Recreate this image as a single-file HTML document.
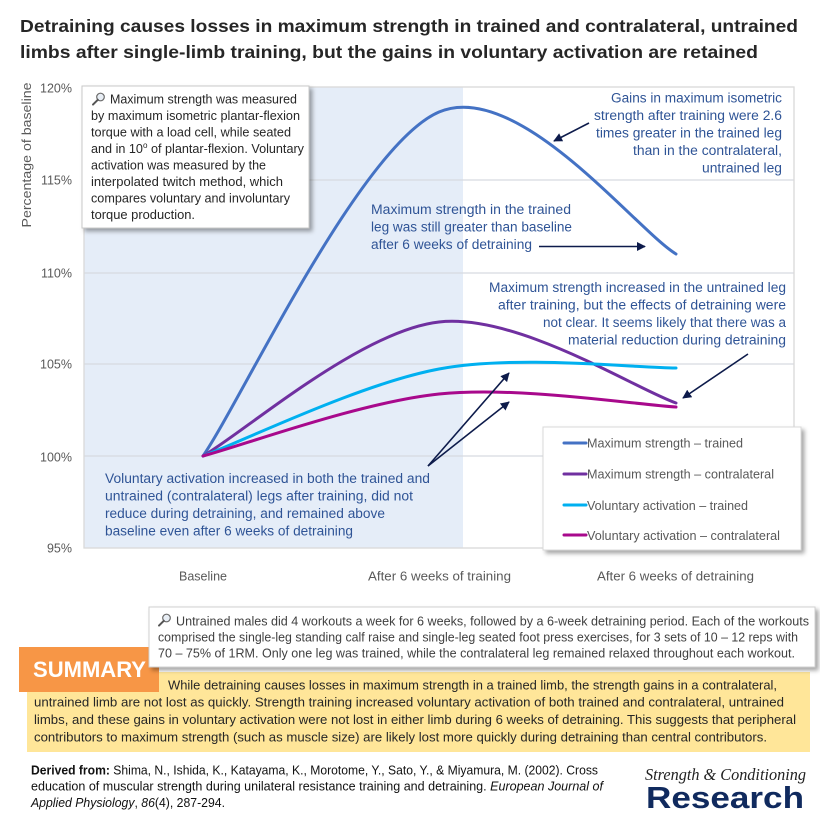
<!DOCTYPE html>
<html>
<head>
<meta charset="utf-8">
<style>
  html,body{margin:0;padding:0;background:#fff;}
  svg{display:block;}
  text{font-family:"Liberation Sans", Arial, sans-serif;}
</style>
</head>
<body>
<svg width="820" height="820" viewBox="0 0 820 820" xmlns="http://www.w3.org/2000/svg">
  <defs>
    <filter id="sh" x="-5%" y="-10%" width="115%" height="130%">
      <feDropShadow dx="3" dy="3" stdDeviation="2" flood-color="#000" flood-opacity="0.35"/>
    </filter>
    <marker id="ah2" viewBox="0 0 10 10" refX="9" refY="5" markerWidth="9" markerHeight="9" markerUnits="userSpaceOnUse" orient="auto">
      <path d="M0,0 L10,5 L0,10 z" fill="#0d1b4b"/>
    </marker>
  </defs>

  <rect width="820" height="820" fill="#fff"/>

  <!-- Title -->
  <text x="20" y="32" font-size="17.5" font-weight="bold" fill="#262626" textLength="778" lengthAdjust="spacingAndGlyphs">Detraining causes losses in maximum strength in trained and contralateral, untrained</text>
  <text x="20" y="58" font-size="17.5" font-weight="bold" fill="#262626" textLength="738" lengthAdjust="spacingAndGlyphs">limbs after single-limb training, but the gains in voluntary activation are retained</text>

  <!-- Plot area -->
  <rect x="84" y="87" width="710" height="461" fill="#fff"/>
  <rect x="84" y="87" width="379" height="461" fill="#e5edf8"/>
  <g stroke="#d6dae0" stroke-width="1.3">
    <line x1="84" y1="180" x2="794" y2="180"/>
    <line x1="84" y1="273" x2="794" y2="273"/>
    <line x1="84" y1="364" x2="794" y2="364"/>
    <line x1="84" y1="456" x2="794" y2="456"/>
  </g>
  <rect x="84" y="87" width="710" height="461" fill="none" stroke="#d9d9d9" stroke-width="1.3"/>

  <!-- Y tick labels -->
  <g font-size="12.5" fill="#595959" text-anchor="end">
    <text x="72" y="92.5">120%</text>
    <text x="72" y="184.5">115%</text>
    <text x="72" y="277.5">110%</text>
    <text x="72" y="368.5">105%</text>
    <text x="72" y="461.5">100%</text>
    <text x="72" y="552.5">95%</text>
  </g>
  <text transform="translate(31,155) rotate(-90)" font-size="13" fill="#595959" text-anchor="middle" textLength="145" lengthAdjust="spacingAndGlyphs">Percentage of baseline</text>

  <!-- X labels -->
  <g font-size="12.5" fill="#595959" text-anchor="middle">
    <text x="203" y="580.5" textLength="48" lengthAdjust="spacingAndGlyphs">Baseline</text>
    <text x="439.5" y="580.5" textLength="143" lengthAdjust="spacingAndGlyphs">After 6 weeks of training</text>
    <text x="675.5" y="580.5" textLength="157" lengthAdjust="spacingAndGlyphs">After 6 weeks of detraining</text>
  </g>

  <!-- Series -->
  <g fill="none" stroke-width="3" stroke-linecap="round" stroke-linejoin="round">
    <path d="M203,456 C242.3,398.7 360.2,145.7 439,112 C517.8,78.3 636.5,230.3 676,254" stroke="#4472c4"/>
    <path d="M203,456 C242.3,433.7 360.2,330.8 439,322 C517.8,313.2 636.5,389.5 676,403" stroke="#7030a0"/>
    <path d="M203,456 C242.3,441.5 360.2,383.7 439,369 C517.8,354.3 636.5,368.2 676,368" stroke="#00b0f0"/>
    <path d="M203,456 C242.3,445.7 360.2,402.2 439,394 C517.8,385.8 636.5,404.8 676,407" stroke="#a8098c"/>
  </g>

  <!-- Top-left info box -->
  <rect x="82" y="86" width="227" height="142" fill="#fff" stroke="#c8c8c8" stroke-width="1" filter="url(#sh)"/>
  <g>
    <circle cx="100.5" cy="97" r="3.8" fill="#e8eef5" stroke="#6b6b6b" stroke-width="1.2"/>
    <line x1="97.8" y1="99.8" x2="93" y2="104.6" stroke="#555" stroke-width="2" stroke-linecap="round"/>
  </g>
  <g font-size="12.5" fill="#262626">
    <text x="110" y="103.5" textLength="187" lengthAdjust="spacingAndGlyphs">Maximum strength was measured</text>
    <text x="91" y="120" textLength="209" lengthAdjust="spacingAndGlyphs">by maximum isometric plantar-flexion</text>
    <text x="91" y="136.5" textLength="200" lengthAdjust="spacingAndGlyphs">torque with a load cell, while seated</text>
    <text x="91" y="153" textLength="213" lengthAdjust="spacingAndGlyphs">and in 10<tspan font-size="8" dy="-5">o</tspan><tspan dy="5"> of plantar-flexion. Voluntary</tspan></text>
    <text x="91" y="169.5" textLength="175" lengthAdjust="spacingAndGlyphs">activation was measured by the</text>
    <text x="91" y="186" textLength="192" lengthAdjust="spacingAndGlyphs">interpolated twitch method, which</text>
    <text x="91" y="202.5" textLength="199" lengthAdjust="spacingAndGlyphs">compares voluntary and involuntary</text>
    <text x="91" y="219" textLength="104" lengthAdjust="spacingAndGlyphs">torque production.</text>
  </g>

  <!-- Annotations -->
  <g font-size="13.5" fill="#2f5496">
    <text x="782" y="102.5" text-anchor="end" textLength="171" lengthAdjust="spacingAndGlyphs">Gains in maximum isometric</text>
    <text x="782" y="120" text-anchor="end" textLength="188" lengthAdjust="spacingAndGlyphs">strength after training were 2.6</text>
    <text x="782" y="137.5" text-anchor="end" textLength="186" lengthAdjust="spacingAndGlyphs">times greater in the trained leg</text>
    <text x="782" y="155" text-anchor="end" textLength="149" lengthAdjust="spacingAndGlyphs">than in the contralateral,</text>
    <text x="782" y="172.5" text-anchor="end" textLength="80" lengthAdjust="spacingAndGlyphs">untrained leg</text>

    <text x="371" y="214" textLength="200" lengthAdjust="spacingAndGlyphs">Maximum strength in the trained</text>
    <text x="371" y="231.5" textLength="201" lengthAdjust="spacingAndGlyphs">leg was still greater than baseline</text>
    <text x="371" y="249" textLength="161" lengthAdjust="spacingAndGlyphs">after 6 weeks of detraining</text>

    <text x="786" y="292" text-anchor="end" textLength="297" lengthAdjust="spacingAndGlyphs">Maximum strength increased in the untrained leg</text>
    <text x="786" y="309.5" text-anchor="end" textLength="288" lengthAdjust="spacingAndGlyphs">after training, but the effects of detraining were</text>
    <text x="786" y="327" text-anchor="end" textLength="243" lengthAdjust="spacingAndGlyphs">not clear. It seems likely that there was a</text>
    <text x="786" y="344.5" text-anchor="end" textLength="218" lengthAdjust="spacingAndGlyphs">material reduction during detraining</text>

    <text x="105" y="483" textLength="325" lengthAdjust="spacingAndGlyphs">Voluntary activation increased in both the trained and</text>
    <text x="105" y="500.5" textLength="308" lengthAdjust="spacingAndGlyphs">untrained (contralateral) legs after training, did not</text>
    <text x="105" y="518" textLength="280" lengthAdjust="spacingAndGlyphs">reduce during detraining, and remained above</text>
    <text x="105" y="535.5" textLength="248" lengthAdjust="spacingAndGlyphs">baseline even after 6 weeks of detraining</text>
  </g>

  <!-- Arrows -->
  <g stroke="#0d1b4b" stroke-width="1.6" fill="none">
    <line x1="589" y1="123" x2="554" y2="141" marker-end="url(#ah2)"/>
    <line x1="539" y1="246.5" x2="645" y2="246.5" marker-end="url(#ah2)"/>
    <line x1="748" y1="354" x2="683" y2="398" marker-end="url(#ah2)"/>
    <line x1="428" y1="466" x2="509" y2="373" marker-end="url(#ah2)"/>
    <line x1="428" y1="466" x2="509" y2="402" marker-end="url(#ah2)"/>
  </g>

  <!-- Legend -->
  <rect x="543" y="427" width="258" height="123" fill="#fff" stroke="#d9d9d9" stroke-width="1" filter="url(#sh)"/>
  <g stroke-width="3" stroke-linecap="round">
    <line x1="564" y1="443" x2="586" y2="443" stroke="#4472c4"/>
    <line x1="564" y1="474" x2="586" y2="474" stroke="#7030a0"/>
    <line x1="564" y1="505" x2="586" y2="505" stroke="#00b0f0"/>
    <line x1="564" y1="535" x2="586" y2="535" stroke="#a8098c"/>
  </g>
  <g font-size="12.5" fill="#595959">
    <text x="587" y="447.5" textLength="156" lengthAdjust="spacingAndGlyphs">Maximum strength – trained</text>
    <text x="587" y="478.5" textLength="187" lengthAdjust="spacingAndGlyphs">Maximum strength – contralateral</text>
    <text x="587" y="510" textLength="161" lengthAdjust="spacingAndGlyphs">Voluntary activation – trained</text>
    <text x="587" y="540" textLength="193" lengthAdjust="spacingAndGlyphs">Voluntary activation – contralateral</text>
  </g>

  <!-- Summary -->
  <rect x="27" y="672" width="783" height="80" fill="#ffe699"/>
  <rect x="19" y="647" width="140" height="45" fill="#f79646"/>
  <text x="33" y="677" font-size="22" font-weight="bold" fill="#fff" textLength="113" lengthAdjust="spacingAndGlyphs">SUMMARY</text>

  <!-- Bottom info box -->
  <rect x="149" y="607" width="666" height="60" fill="#fff" stroke="#d0d0d0" stroke-width="1" filter="url(#sh)"/>
  <g>
    <circle cx="166.5" cy="618" r="3.8" fill="#e8eef5" stroke="#6b6b6b" stroke-width="1.2"/>
    <line x1="163.8" y1="620.8" x2="159" y2="625.6" stroke="#555" stroke-width="2" stroke-linecap="round"/>
  </g>
  <g font-size="12.5" fill="#404040">
    <text x="176" y="625.5" textLength="633" lengthAdjust="spacingAndGlyphs">Untrained males did 4 workouts a week for 6 weeks, followed by a 6-week detraining period. Each of the workouts</text>
    <text x="158" y="641.5" textLength="640" lengthAdjust="spacingAndGlyphs">comprised the single-leg standing calf raise and single-leg seated foot press exercises, for 3 sets of 10 – 12 reps with</text>
    <text x="158" y="657.5" textLength="637" lengthAdjust="spacingAndGlyphs">70 – 75% of 1RM. Only one leg was trained, while the contralateral leg remained relaxed throughout each workout.</text>
  </g>

  <g font-size="13" fill="#262626">
    <text x="168" y="689.5" textLength="609" lengthAdjust="spacingAndGlyphs">While detraining causes losses in maximum strength in a trained limb, the strength gains in a contralateral,</text>
    <text x="34" y="706.5" textLength="750" lengthAdjust="spacingAndGlyphs">untrained limb are not lost as quickly. Strength training increased voluntary activation of both trained and contralateral, untrained</text>
    <text x="34" y="724" textLength="762" lengthAdjust="spacingAndGlyphs">limbs, and these gains in voluntary activation were not lost in either limb during 6 weeks of detraining. This suggests that peripheral</text>
    <text x="34" y="741.5" textLength="733" lengthAdjust="spacingAndGlyphs">contributors to maximum strength (such as muscle size) are likely lost more quickly during detraining than central contributors.</text>
  </g>

  <!-- Citation -->
  <g font-size="12.5" fill="#111">
    <text x="31" y="774.5" textLength="567" lengthAdjust="spacingAndGlyphs"><tspan font-weight="bold">Derived from:</tspan> Shima, N., Ishida, K., Katayama, K., Morotome, Y., Sato, Y., &amp; Miyamura, M. (2002). Cross</text>
    <text x="31" y="790.5" textLength="572" lengthAdjust="spacingAndGlyphs">education of muscular strength during unilateral resistance training and detraining. <tspan font-style="italic">European Journal of</tspan></text>
    <text x="31" y="807" textLength="194" lengthAdjust="spacingAndGlyphs"><tspan font-style="italic">Applied Physiology</tspan>, <tspan font-style="italic">86</tspan>(4), 287-294.</text>
  </g>

  <!-- Logo -->
  <text x="645" y="780" style="font-family:'Liberation Serif', serif; font-style:italic;" font-size="17" fill="#222" textLength="161" lengthAdjust="spacingAndGlyphs">Strength &amp; Conditioning</text>
  <text x="646" y="808" font-size="31" font-weight="bold" fill="#102a5e" textLength="158" lengthAdjust="spacingAndGlyphs">Research</text>
</svg>
</body>
</html>
